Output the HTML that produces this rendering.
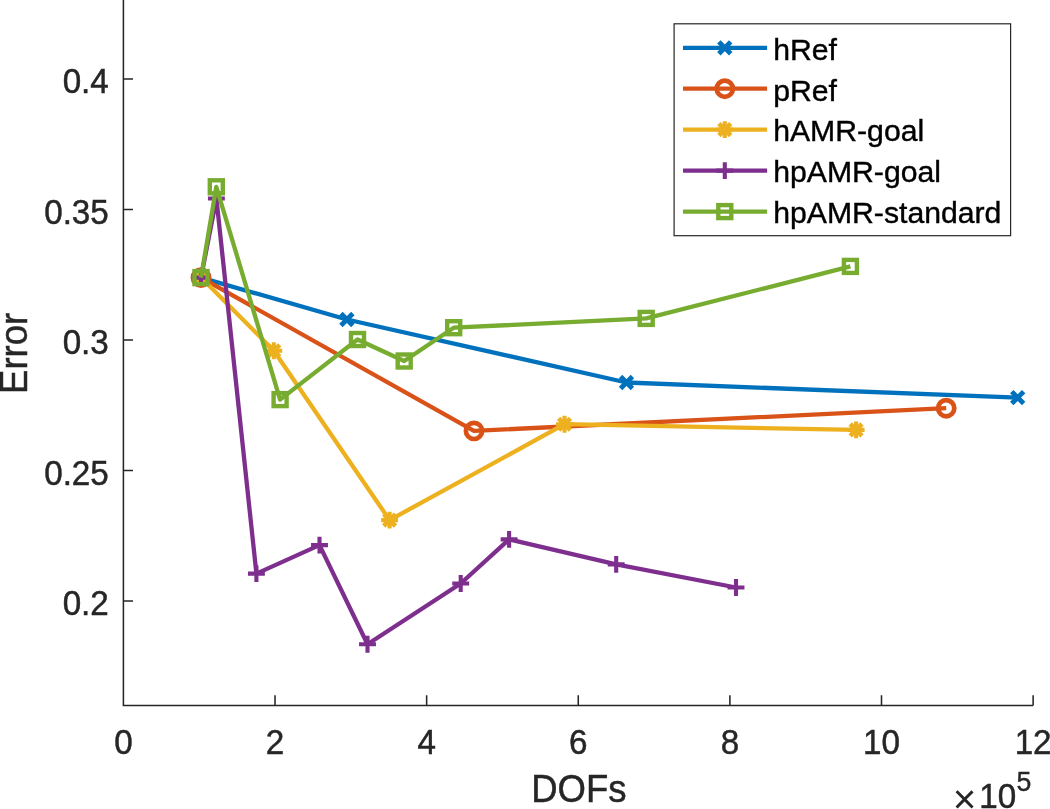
<!DOCTYPE html>
<html lang="en"><head><meta charset="utf-8"><title>Error vs DOFs</title>
<style>
html,body{margin:0;padding:0;background:#fff;}
body{width:1050px;height:809px;overflow:hidden;}
svg{display:block;font-family:"Liberation Sans",Arial,Helvetica,sans-serif;}
.tick{font-size:33.2px;fill:#262626;stroke:#262626;stroke-width:0.45px;}
.lab{font-size:36.5px;fill:#262626;stroke:#262626;stroke-width:0.45px;}
.leg{font-size:30.2px;fill:#000;stroke:#000;stroke-width:0.4px;}
.sup{font-size:26.7px;fill:#262626;stroke:#262626;stroke-width:0.4px;}
.mul{font-size:40.4px;fill:#262626;}
</style></head><body>
<svg width="1050" height="809" viewBox="0 0 1050 809">
<rect width="1050" height="809" fill="#fff"/>
<path d="M123.4 -2L123.4 705.5L1033.12 705.5M123.40 705.5L123.40 695.3M275.02 705.5L275.02 695.3M426.64 705.5L426.64 695.3M578.26 705.5L578.26 695.3M729.88 705.5L729.88 695.3M881.50 705.5L881.50 695.3M1033.12 705.5L1033.12 695.3M123.4 601.00L133.0 601.00M123.4 470.50L133.0 470.50M123.4 340.00L133.0 340.00M123.4 209.50L133.0 209.50M123.4 79.00L133.0 79.00" stroke="#262626" stroke-width="1.55" fill="none"/>
<g class="tick" text-anchor="middle">
<text transform="translate(123.40 753.8) scale(1 1.05)">0</text>
<text transform="translate(275.02 753.8) scale(1 1.05)">2</text>
<text transform="translate(426.64 753.8) scale(1 1.05)">4</text>
<text transform="translate(578.26 753.8) scale(1 1.05)">6</text>
<text transform="translate(729.88 753.8) scale(1 1.05)">8</text>
<text transform="translate(881.50 753.8) scale(1 1.05)">10</text>
<text transform="translate(1033.12 753.8) scale(1 1.05)">12</text>
</g>
<g class="tick" text-anchor="end">
<text transform="translate(108.8 615.30) scale(1 1.05)">0.2</text>
<text transform="translate(108.8 484.80) scale(1 1.05)">0.25</text>
<text transform="translate(108.8 354.30) scale(1 1.05)">0.3</text>
<text transform="translate(108.8 223.80) scale(1 1.05)">0.35</text>
<text transform="translate(108.8 93.30) scale(1 1.05)">0.4</text>
</g>
<text class="lab" text-anchor="middle" transform="translate(578.8 801.7) scale(1 1.05)">DOFs</text>
<text class="lab" text-anchor="middle" transform="translate(26.9 353.4) rotate(-90) scale(1 1.05)">Error</text>
<text class="mul" x="952.7" y="813.1">×</text><text class="tick" transform="translate(979.2 808) scale(1 1.05)">10</text><text class="sup" transform="translate(1016.6 791) scale(1 1.05)">5</text>
<g><path d="M201.00 277.60L346.90 319.50L626.50 382.50L1017.70 397.60" stroke="#0072BD" stroke-width="4.3" fill="none" stroke-linejoin="round"/>
<path d="M195.05 271.65L206.95 283.55M195.05 283.55L206.95 271.65" stroke="#0072BD" stroke-width="4.8" fill="none"/>
<path d="M340.95 313.55L352.85 325.45M340.95 325.45L352.85 313.55" stroke="#0072BD" stroke-width="4.8" fill="none"/>
<path d="M620.55 376.55L632.45 388.45M620.55 388.45L632.45 376.55" stroke="#0072BD" stroke-width="4.8" fill="none"/>
<path d="M1011.75 391.65L1023.65 403.55M1011.75 403.55L1023.65 391.65" stroke="#0072BD" stroke-width="4.8" fill="none"/>
</g>
<g><path d="M201.00 277.60L474.00 430.90L946.20 408.20" stroke="#D95319" stroke-width="4.3" fill="none" stroke-linejoin="round"/>
<circle cx="201.00" cy="277.60" r="8.1" stroke="#D95319" stroke-width="4.7" fill="none"/>
<circle cx="474.00" cy="430.90" r="8.1" stroke="#D95319" stroke-width="4.7" fill="none"/>
<circle cx="946.20" cy="408.20" r="8.1" stroke="#D95319" stroke-width="4.7" fill="none"/>
</g>
<g><path d="M201.00 277.60L273.80 350.70L389.60 520.10L564.50 424.20L856.10 429.90" stroke="#EDB120" stroke-width="4.3" fill="none" stroke-linejoin="round"/>
<path d="M192.55 277.60L209.45 277.60M201.00 269.15L201.00 286.05" stroke="#EDB120" stroke-width="4.1" fill="none"/><path d="M195.10 271.70L206.90 283.50M195.10 283.50L206.90 271.70" stroke="#EDB120" stroke-width="4.7" fill="none"/>
<path d="M265.35 350.70L282.25 350.70M273.80 342.25L273.80 359.15" stroke="#EDB120" stroke-width="4.1" fill="none"/><path d="M267.90 344.80L279.70 356.60M267.90 356.60L279.70 344.80" stroke="#EDB120" stroke-width="4.7" fill="none"/>
<path d="M381.15 520.10L398.05 520.10M389.60 511.65L389.60 528.55" stroke="#EDB120" stroke-width="4.1" fill="none"/><path d="M383.70 514.20L395.50 526.00M383.70 526.00L395.50 514.20" stroke="#EDB120" stroke-width="4.7" fill="none"/>
<path d="M556.05 424.20L572.95 424.20M564.50 415.75L564.50 432.65" stroke="#EDB120" stroke-width="4.1" fill="none"/><path d="M558.60 418.30L570.40 430.10M558.60 430.10L570.40 418.30" stroke="#EDB120" stroke-width="4.7" fill="none"/>
<path d="M847.65 429.90L864.55 429.90M856.10 421.45L856.10 438.35" stroke="#EDB120" stroke-width="4.1" fill="none"/><path d="M850.20 424.00L862.00 435.80M850.20 435.80L862.00 424.00" stroke="#EDB120" stroke-width="4.7" fill="none"/>
</g>
<g><path d="M201.00 277.60L216.40 198.50L256.40 573.60L319.50 545.10L367.50 644.20L460.70 583.50L509.10 539.40L616.20 564.40L736.00 587.50" stroke="#7E2F8E" stroke-width="4.3" fill="none" stroke-linejoin="round"/>
<path d="M192.55 277.60L209.45 277.60M201.00 269.15L201.00 286.05" stroke="#7E2F8E" stroke-width="4.1" fill="none"/>
<path d="M207.95 198.50L224.85 198.50M216.40 190.05L216.40 206.95" stroke="#7E2F8E" stroke-width="4.1" fill="none"/>
<path d="M247.95 573.60L264.85 573.60M256.40 565.15L256.40 582.05" stroke="#7E2F8E" stroke-width="4.1" fill="none"/>
<path d="M311.05 545.10L327.95 545.10M319.50 536.65L319.50 553.55" stroke="#7E2F8E" stroke-width="4.1" fill="none"/>
<path d="M359.05 644.20L375.95 644.20M367.50 635.75L367.50 652.65" stroke="#7E2F8E" stroke-width="4.1" fill="none"/>
<path d="M452.25 583.50L469.15 583.50M460.70 575.05L460.70 591.95" stroke="#7E2F8E" stroke-width="4.1" fill="none"/>
<path d="M500.65 539.40L517.55 539.40M509.10 530.95L509.10 547.85" stroke="#7E2F8E" stroke-width="4.1" fill="none"/>
<path d="M607.75 564.40L624.65 564.40M616.20 555.95L616.20 572.85" stroke="#7E2F8E" stroke-width="4.1" fill="none"/>
<path d="M727.55 587.50L744.45 587.50M736.00 579.05L736.00 595.95" stroke="#7E2F8E" stroke-width="4.1" fill="none"/>
</g>
<g><path d="M201.00 277.60L216.30 186.80L280.10 399.60L357.50 339.50L404.20 361.00L453.70 327.70L646.20 318.40L850.40 266.40" stroke="#77AC30" stroke-width="4.3" fill="none" stroke-linejoin="round"/>
<rect x="194.50" y="271.10" width="13.00" height="13.00" stroke="#77AC30" stroke-width="4.4" fill="none"/>
<rect x="209.80" y="180.30" width="13.00" height="13.00" stroke="#77AC30" stroke-width="4.4" fill="none"/>
<rect x="273.60" y="393.10" width="13.00" height="13.00" stroke="#77AC30" stroke-width="4.4" fill="none"/>
<rect x="351.00" y="333.00" width="13.00" height="13.00" stroke="#77AC30" stroke-width="4.4" fill="none"/>
<rect x="397.70" y="354.50" width="13.00" height="13.00" stroke="#77AC30" stroke-width="4.4" fill="none"/>
<rect x="447.20" y="321.20" width="13.00" height="13.00" stroke="#77AC30" stroke-width="4.4" fill="none"/>
<rect x="639.70" y="311.90" width="13.00" height="13.00" stroke="#77AC30" stroke-width="4.4" fill="none"/>
<rect x="843.90" y="259.90" width="13.00" height="13.00" stroke="#77AC30" stroke-width="4.4" fill="none"/>
</g>
<rect x="674.1" y="23.8" width="336.5" height="211.9" fill="#fff" stroke="#262626" stroke-width="1.2"/>
<path d="M683 47.8L767.1 47.8" stroke="#0072BD" stroke-width="4.3" fill="none"/>
<path d="M718.85 41.85L730.75 53.75M718.85 53.75L730.75 41.85" stroke="#0072BD" stroke-width="4.8" fill="none"/>
<text class="leg" x="773.2" y="59.60">hRef</text>
<path d="M683 88.7L767.1 88.7" stroke="#D95319" stroke-width="4.3" fill="none"/>
<circle cx="724.80" cy="88.70" r="8.1" stroke="#D95319" stroke-width="4.7" fill="none"/>
<text class="leg" x="773.2" y="100.50">pRef</text>
<path d="M683 129.6L767.1 129.6" stroke="#EDB120" stroke-width="4.3" fill="none"/>
<path d="M716.35 129.60L733.25 129.60M724.80 121.15L724.80 138.05" stroke="#EDB120" stroke-width="4.1" fill="none"/><path d="M718.90 123.70L730.70 135.50M718.90 135.50L730.70 123.70" stroke="#EDB120" stroke-width="4.7" fill="none"/>
<text class="leg" x="773.2" y="141.40">hAMR-goal</text>
<path d="M683 170.6L767.1 170.6" stroke="#7E2F8E" stroke-width="4.3" fill="none"/>
<path d="M716.35 170.60L733.25 170.60M724.80 162.15L724.80 179.05" stroke="#7E2F8E" stroke-width="4.1" fill="none"/>
<text class="leg" x="773.2" y="182.40">hpAMR-goal</text>
<path d="M683 211.6L767.1 211.6" stroke="#77AC30" stroke-width="4.3" fill="none"/>
<rect x="718.30" y="205.10" width="13.00" height="13.00" stroke="#77AC30" stroke-width="4.4" fill="none"/>
<text class="leg" x="773.2" y="223.40">hpAMR-standard</text>
</svg></body></html>
